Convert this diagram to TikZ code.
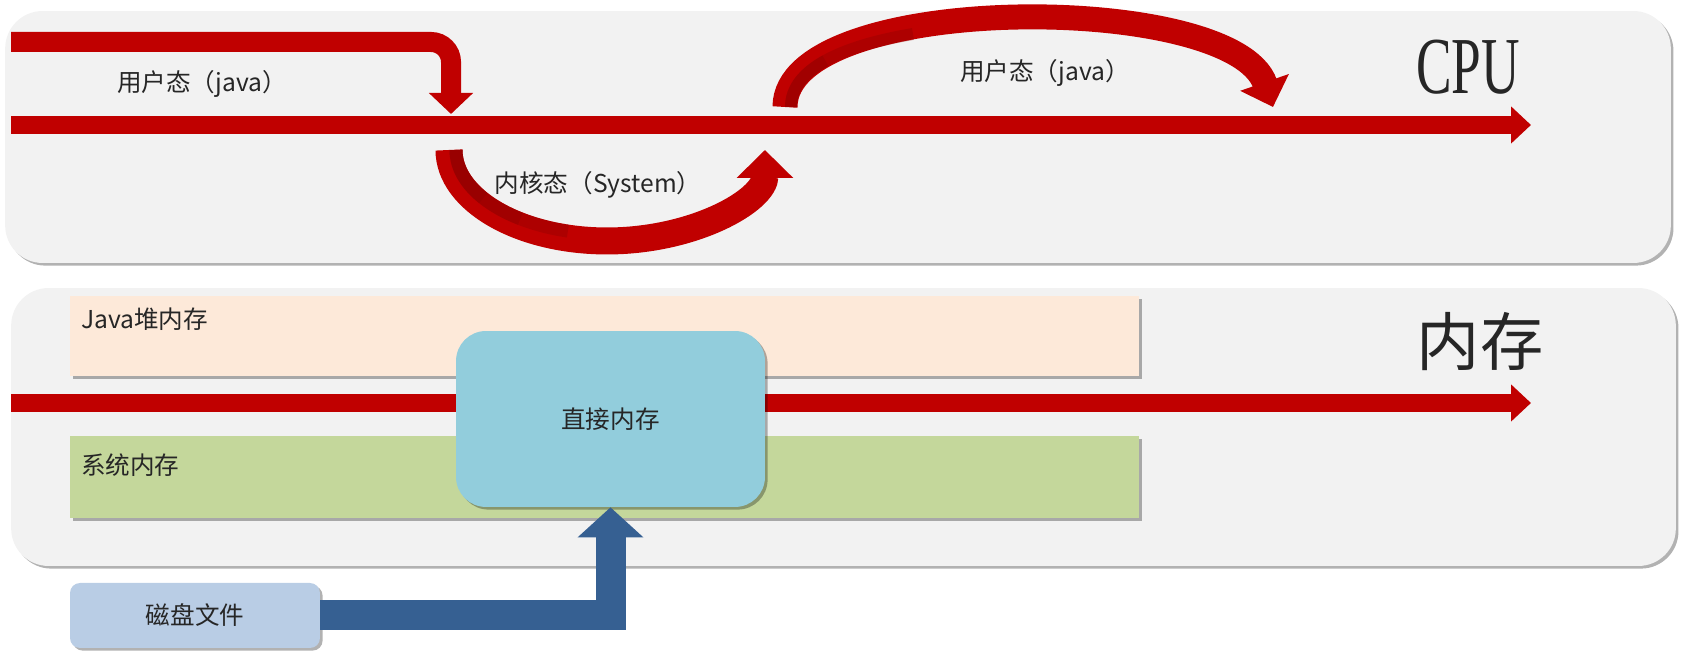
\documentclass[tikz,border=0pt]{standalone}
\usepackage{fontspec}
\usepackage{graphicx}
\setmainfont{Noto Sans CJK SC}
\newfontfamily\latinserif{Liberation Serif}
\usetikzlibrary{arrows.meta, positioning, calc, shadows}
\definecolor{cPanel}{RGB}{242,242,242}
\definecolor{cRed}{RGB}{192,0,0}
\definecolor{cDarkRed}{RGB}{140,0,0}
\definecolor{cHeap}{RGB}{253,233,217}
\definecolor{cSys}{RGB}{196,215,155}
\definecolor{cDirect}{RGB}{146,205,220}
\definecolor{cDisk}{RGB}{185,205,229}
\definecolor{cBlue}{RGB}{54,96,146}
\definecolor{cText}{RGB}{38,38,38}
\tikzset{
	softshadow/.style={drop shadow={shadow xshift=1.5pt, shadow yshift=-1.5pt, opacity=0.3, fill=black}},
	panel/.style    ={rectangle, rounded corners=0.75cm, fill=cPanel, softshadow, inner sep=0pt},
	region/.style   ={rectangle, fill=#1, softshadow, inner sep=0pt},
	memblk/.style   ={rectangle, rounded corners=0.6cm, fill=cDirect, softshadow, text=cText, font=\fontsize{14}{16}\selectfont, minimum width=6.18cm, minimum height=3.52cm},
	diskblk/.style  ={rectangle, rounded corners=0.2cm, fill=cDisk, softshadow, text=cText, font=\fontsize{14}{16}\selectfont, minimum width=5cm, minimum height=1.3cm},
	lbl/.style      ={text=cText, font=\fontsize{14}{16}\selectfont, inner sep=0pt},
	biglbl/.style   ={text=cText, inner sep=0pt},
	% red lanes and state changes
	timeline/.style ={cRed, line width=0.36cm, -{Triangle[length=0.4cm, width=0.72cm]}},
	callarrow/.style={cRed, line width=0.4cm, rounded corners=0.4cm, -{Triangle[length=0.42cm, width=0.86cm]}},
	kernarc/.style  ={cRed, line width=0.54cm, -{Triangle[length=0.56cm, width=1.1cm]}},
	userarc/.style  ={cRed, line width=0.5cm, -{Triangle[length=0.52cm, width=1.0cm]}},
	ribbon/.style   ={cDarkRed, line width=0.26cm, opacity=0.35},
	feedarrow/.style={cBlue, line width=0.6cm, -{Triangle[length=0.6cm, width=1.28cm]}},
}
\begin{document}
\begin{tikzpicture}[x=0.02cm, y=0.02cm]
\useasboundingbox (0,0) rectangle (1685,658);
\node[panel, minimum width=33.32cm, minimum height=5.04cm] (cpu) at (838,521) {};
\node[panel, minimum width=33.3cm, minimum height=5.56cm] (mem) at (843.5,231) {};

% CPU
\coordinate (cpustart) at (11,533);
\coordinate (cpuend) at (1531,533);
\draw[timeline] (cpustart) -- (cpuend);
\coordinate (lstart) at (11,616);
\coordinate (ltip) at (451,544);
\draw[callarrow] (lstart) -| (ltip);
\coordinate (kstart) at (449,508);
\draw[kernarc] (kstart) arc[start angle=180, end angle=360, x radius=3.16cm, y radius=1.82cm];
\foreach \e in {215,235,255}
	\draw[ribbon] ($(kstart)+(7,0)$) arc[start angle=180, end angle=\e, x radius=3.02cm, y radius=1.68cm];
\coordinate (ustart) at (785,551);
\coordinate (uend) at (1273,551);
\draw[userarc] (ustart) .. controls +(0,116) and +(-40,116) .. (uend);
\draw[ribbon, line width=0.24cm] (791,551) .. controls (791,589) and (842,612) .. (913,624);
\draw[ribbon, line width=0.24cm] (791,551) .. controls (791,570) and (803.75,585.25) .. (825.4,597.25);

\node[lbl] (userlbl) at (202,574) {用户态（java）};
\node[lbl] (kernlbl) at (598,473) {内核态（System）};
\node[lbl] (userlbl2) at (1045,585) {用户态（java）};
\node[biglbl] (cputxt) at (1468,591) {\scalebox{0.66}[1]{\fontsize{46}{50}\latinserif CPU}};

% memory
\node[region=cHeap, minimum width=21.38cm, minimum height=1.6cm] (heap) at (604.5,322) {};
\node[region=cSys, minimum width=21.38cm, minimum height=1.64cm] (sysmem) at (604.5,181) {};
\node[lbl, anchor=west] (heaptxt) at ([xshift=0.22cm, yshift=-0.48cm]heap.north west) {Java堆内存};
\node[lbl, anchor=west] (systxt) at ([xshift=0.22cm, yshift=-0.58cm]sysmem.north west) {系统内存};
\coordinate (memstart) at (11,255);
\coordinate (memend) at (1531,255);
\draw[timeline] (memstart) -- (memend);
\node[memblk] (direct) at (610.5,239) {直接内存};
\node[diskblk] (disk) at (195,42.5) {磁盘文件};
\draw[feedarrow] (disk.east) -| (direct.south);
\node[biglbl, font=\fontsize{36}{40}\selectfont] (memtxt) at (1480,316) {内存};
\end{tikzpicture}
\end{document}
